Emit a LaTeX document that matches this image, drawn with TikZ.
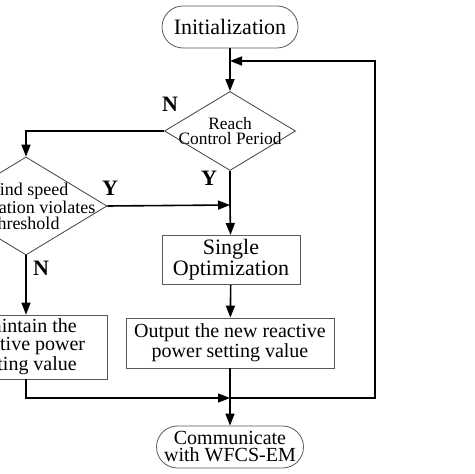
\documentclass[tikz,border=0pt]{standalone}
\usepackage{fontspec}
\setmainfont{Liberation Serif}
\usepackage{tikz}
\usetikzlibrary{arrows.meta,positioning,shapes.geometric}
\tikzset{
  term/.style={draw=black!65, rounded corners=10.5pt, align=center,
               font=\fontsize{11}{11}\selectfont, inner sep=2pt},
  proc/.style={draw=black!65, align=center,
               font=\fontsize{10}{8.8}\selectfont, inner sep=2pt},
  decide/.style={draw=black!75, diamond, inner sep=0pt},
  dtext/.style={align=center, font=\fontsize{8.7}{7.8}\selectfont},
  yn/.style={font=\fontsize{11}{11}\bfseries\selectfont},
  link/.style={-{Triangle[length=6pt,width=4.5pt]}, line width=0.8pt},
  line/.style={line width=0.8pt}
}
\begin{document}
\begin{tikzpicture}[x=0.5pt,y=-0.5pt]
  \useasboundingbox (0,0) rectangle (474,474);
  \clip (0,0) rectangle (474,474);

  \node[term, minimum width=68pt, minimum height=21pt] (init) at (230,27) {Initialization};
  \node[decide, minimum width=65.5pt, minimum height=39.5pt,
        label={[dtext]center:Reach\\Control Period}] (reach) at (230,131) {};
  \node[decide, minimum width=81pt, minimum height=49pt,
        label={[dtext, font=\fontsize{9}{7.6}\selectfont]center:Wind speed\\fluctuation violates\\threshold}] (wind) at (26,206) {};
  \node[proc, font=\fontsize{11}{9.6}\selectfont, minimum width=69pt, minimum height=24.5pt] (single) at (231,260) {Single\\Optimization};
  \node[proc, minimum width=104pt, minimum height=25pt] (out) at (230,343) {Output the new reactive\\power setting value};
  \node[proc, minimum width=81pt, minimum height=29pt] (keep) at (26,347) {Maintain the\\reactive power\\setting value};
  \node[term, font=\fontsize{10}{8.5}\selectfont, minimum width=73.5pt, minimum height=21pt] (comm) at (230,447) {Communicate\\with WFCS-EM};

  \coordinate (j1) at (230,61);
  \coordinate (j2) at (230,205);
  \coordinate (j3) at (230,398);
  \coordinate (fb) at (375,398);

  \draw[link] (init) -- (reach);
  \draw[line] (reach) -- (j2);
  \draw[link] (j2) -- (single);
  \draw[link] (reach.west) -| (wind.north);
  \draw[link] (wind.east) -- (j2);
  \draw[link] (wind.south) -- (keep);
  \draw[link] (single) -- (out);
  \draw[link] (out) -- (comm);
  \draw[link] (keep.south) |- (j3);
  \draw[link] (j3) -- (fb) |- (j1);

  \node[yn] (n1) at (170,104) {N};
  \node[yn] (y1) at (209,178) {Y};
  \node[yn] (y2) at (110,188) {Y};
  \node[yn] (n2) at (41,268) {N};
\end{tikzpicture}
\end{document}
